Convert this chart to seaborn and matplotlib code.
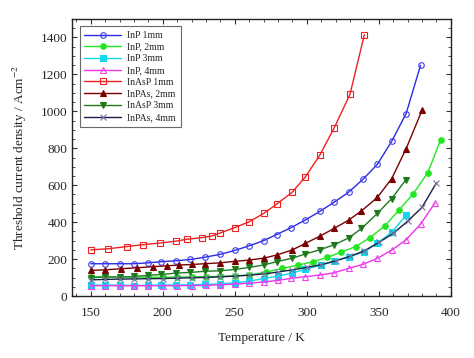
import numpy as np
import pandas as pd
import matplotlib
matplotlib.use("Agg")
import matplotlib.pyplot as plt
from matplotlib.ticker import MultipleLocator
import seaborn as sns

# ---- data ----
T_inp1 = [150,160,170,180,190,199,209,219,229,240,250,260,270,279,289,299,309,319,329,339,349,359,369,379]
J_inp1 = [175,175,175,175,180,186,191,198,210,226,247,272,300,333,370,412,458,508,562,632,713,838,988,1249]

T_inp2 = [150,160,170,180,190,200,210,220,230,240,250,260,272,283,294,304,314,324,334,344,354,364,374,384,393]
J_inp2 = [105,104,103,103,102,102,103,104,105,107,109,114,130,150,168,185,209,238,268,317,378,465,555,667,847]

T_inp3 = [150,160,170,180,190,199,209,219,229,240,250,260,270,280,290,299,310,319,329,340,349,359,369]
J_inp3 = [59,59,59,57,58,60,60,61,63,66,72,80,95,108,125,145,167,190,212,240,287,345,438]

T_inp4 = [150,160,170,180,190,200,210,220,230,240,250,260,270,280,289,299,309,319,329,339,349,359,369,379,389]
J_inp4 = [56,56,56,56,56,56,56,57,58,61,65,70,76,85,96,105,114,126,150,172,204,249,305,389,504]

T_inasp1 = [150,162,175,186,198,209,217,227,234,240,250,260,270,279,290,299,309,319,330,340]
J_inasp1 = [250,256,268,278,287,297,308,316,325,342,371,402,447,497,563,645,762,910,1092,1415]

T_inpas2 = [150,160,171,182,193,203,211,220,229,240,250,260,270,279,290,299,309,319,329,338,349,359,369,380]
J_inpas2 = [139,142,148,153,159,164,168,171,175,180,188,195,205,222,250,285,324,366,411,461,534,636,798,1005]

T_inasp3 = [150,160,170,180,190,199,209,219,229,240,250,260,270,279,290,299,309,319,329,338,349,359,369]
J_inasp3 = [99,104,103,106,112,117,124,128,134,137,144,155,168,186,205,228,250,278,314,366,447,528,631]

T_inpas4 = [150,160,170,180,190,200,210,220,230,240,250,260,270,280,290,300,310,320,330,340,350,360,370,380,390]
J_inpas4 = [88,90,92,93,94,95,97,99,101,104,108,113,120,130,142,155,170,190,215,245,290,339,405,480,612]

labels = ["InP 1mm", "InP, 2mm", "InP 3mm", "InP, 4mm",
          "InAsP 1mm", "InPAs, 2mm", "InAsP 3mm", "InPAs, 4mm"]

series = [
    (T_inp1, J_inp1, dict(color="#2a2ae6", marker="o", mfc="none", mec="#3a3af0")),
    (T_inp2, J_inp2, dict(color="#22e622", marker="o", mfc="#22e622", mec="#22e622")),
    (T_inp3, J_inp3, dict(color="#10d8e8", marker="s", mfc="#10d8ee", mec="#10d8ee")),
    (T_inp4, J_inp4, dict(color="#ee33ee", marker="^", mfc="none", mec="#ee44ee")),
    (T_inasp1, J_inasp1, dict(color="#ee2020", marker="s", mfc="none", mec="#ee2020")),
    (T_inpas2, J_inpas2, dict(color="#7a0000", marker="^", mfc="#7a0000", mec="#7a0000")),
    (T_inasp3, J_inasp3, dict(color="#1f7a1f", marker="v", mfc="#1f7a1f", mec="#1f7a1f")),
    (T_inpas4, J_inpas4, dict(color="#1c1c4a", marker="x", mfc="none", mec="#7878a0")),
]

sns.set_style("ticks")
plt.rcParams["font.family"] = ["Liberation Serif", "DejaVu Serif"]
plt.rcParams["mathtext.fontset"] = "stix"

fig = plt.figure(figsize=(4.74, 3.58), dpi=100)
ax = fig.add_axes([0.152, 0.173, 0.799, 0.774])

for (T, J, st), lab in zip(series, labels):
    df = pd.DataFrame({"T": T, "J": J})
    sns.lineplot(data=df, x="T", y="J", ax=ax, label=lab, color=st["color"],
                 marker=st["marker"], markerfacecolor=st["mfc"],
                 markeredgecolor=st["mec"], markersize=4.0, markeredgewidth=0.8,
                 linewidth=1.0, estimator=None, sort=True)

ax.set_xlim(137, 400)
ax.set_ylim(0, 1500)
ax.xaxis.set_major_locator(MultipleLocator(50))
ax.xaxis.set_minor_locator(MultipleLocator(10))
ax.yaxis.set_major_locator(MultipleLocator(200))
ax.yaxis.set_minor_locator(MultipleLocator(50))
ax.set_yticks([0, 200, 400, 600, 800, 1000, 1200, 1400])
ax.tick_params(which="both", direction="in", top=True, right=True, labelsize=9.5,
               color="#333333")
ax.tick_params(which="major", length=3.5, width=0.8)
ax.tick_params(which="minor", length=2, width=0.6)
ax.tick_params(axis="x", pad=8)
for s in ax.spines.values():
    s.set_linewidth(1.0)
    s.set_color("#222222")

ax.set_xlabel("Temperature / K", fontsize=9.5, labelpad=9)
ax.set_ylabel("Threshold current density / Acm$^{-2}$", fontsize=9.5, labelpad=8)

leg = ax.legend(loc="upper left", bbox_to_anchor=(0.012, 0.985), fontsize=7.0,
                frameon=True, fancybox=False, edgecolor="#444444",
                handlelength=3.8, handletextpad=0.6, labelspacing=0.28,
                borderpad=0.5, borderaxespad=0.3)
leg.get_frame().set_linewidth(0.8)

fig.savefig("out.png", dpi=100)
